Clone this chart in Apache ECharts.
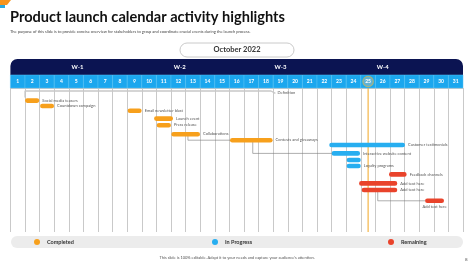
<!DOCTYPE html>
<html>
<head>
<meta charset="utf-8">
<script src="https://cdn.jsdelivr.net/npm/echarts@6/dist/echarts.min.js"></script>
<style>
  html, body {margin:0;padding:0;background:#fff}
  #main {width:474px;height:266px}
</style>
</head>
<body>
<div id="main"></div>
<script>
// ---- data ----
var days = ['1','2','3','4','5','6','7','8','9','10','11','12','13','14','15','16',
            '17','18','19','20','21','22','23','24','25','26','27','28','29','30','31'];
var weeks = ['W-1', 'W-2', 'W-3', 'W-4'];
var weekCenters = [4.6, 11.6, 18.5, 25.5];
var todayDay = 25;

// tasks: start / end in days from the 1st (0 = left edge of day 1), lane = row
var taskNames = ['Social media teasers', 'Countdown campaign', 'Email newsletter blast', 'Launch event',
                 'Press release', 'Collaborations', 'Contests and giveaways', 'Customer testimonials',
                 'Interactive website content', '', 'Loyalty programs', 'Feedback channels',
                 'Add text here', 'Add text here', 'Add text here'];
var taskStart  = [1.0, 2.03, 8.03, 9.84, 10.02, 11.02, 15.04, 21.84, 22.0, 23.03, 23.03, 25.93, 23.88, 24.06, 28.4];
var taskEnd    = [1.98, 2.99, 8.99, 11.14, 11.0, 12.99, 17.96, 27.03, 23.95, 24.0, 24.0, 27.14, 26.5, 26.5, 29.7];
var taskLane   = [2.1, 3.0, 3.8, 5.1, 6.2, 7.7, 8.7, 9.5, 10.9, 12.0, 13.0, 14.4, 15.9, 17.0, 18.8];
var taskStatus = [0, 0, 0, 0, 0, 0, 0, 1, 1, 1, 1, 2, 2, 2, 2];
var labelPos   = ['right','right','right','right','right','right','right','right','right','right','right','right','right','right','bottom'];

var statusNames = ['Completed', 'In Progress', 'Remaining'];
var statusColors = ['#f7a01c', '#27aef0', '#e9432b'];
var legendLeft = [34, 212, 388];

// elbow connectors: vertical at x from lane a to lane b, then across to end
var connX    = [12.16, 16.6, 25.16];
var connFrom = [7.7, 8.7, 17.0];
var connTo   = [8.7, 10.9, 18.8];
var connEnd  = [15.04, 22.0, 28.4];

var milestoneName = 'Definition';
var milestonePath = [[1.0, 1.6], [1.0, 0.5], [17.85, 0.5], [18.15, 0.9]];
var milestoneLabel = [18.3, 0.8];

var chart = echarts.init(document.getElementById('main'));
var F = 'Lato, "Open Sans", sans-serif';

function barSeries(st) {
  var data = [];
  for (var i = 0; i < taskNames.length; i++) {
    if (taskStatus[i] === st) data.push([taskStart[i], taskEnd[i], taskLane[i], i]);
  }
  return {
    type: 'custom', name: statusNames[st], z: 5,
    itemStyle: {color: statusColors[st]},
    data: data,
    renderItem: function (params, api) {
      var s = api.coord([api.value(0), api.value(2)]);
      var e = api.coord([api.value(1), api.value(2)]);
      var idx = api.value(3);
      var h = 4.6;
      var kids = [{type: 'rect', shape: {x: s[0], y: s[1] - h / 2, width: e[0] - s[0], height: h, r: h / 2},
                   style: {fill: statusColors[st]}}];
      if (taskNames[idx]) {
        var below = labelPos[idx] === 'bottom';
        kids.push({type: 'text', style: {
          text: taskNames[idx], x: below ? (s[0] + e[0]) / 2 : e[0] + 3, y: below ? s[1] + 6 : s[1],
          align: below ? 'center' : 'left', verticalAlign: 'middle',
          fontSize: 4, fontFamily: F, fill: '#555'}});
      }
      return {type: 'group', children: kids};
    }
  };
}

var series = [];

// navy week band
series.push({
  type: 'custom', clip: false, silent: true, z: 3, data: [[0, 31]],
  renderItem: function (params, api) {
    var a = api.coord([api.value(0), -4.83]);
    var b = api.coord([api.value(1), -2.17]);
    return {type: 'rect', shape: {x: a[0], y: a[1], width: b[0] - a[0], height: b[1] - a[1], r: [7, 7, 0, 0]},
            style: {fill: '#0b1452'}};
  }
});
// week labels
series.push({
  type: 'custom', clip: false, silent: true, z: 4,
  data: weekCenters.map(function (c, i) { return [c, i]; }),
  renderItem: function (params, api) {
    var p = api.coord([api.value(0), -3.5]);
    return {type: 'text', style: {text: weeks[api.value(1)], x: p[0], y: p[1], align: 'center', verticalAlign: 'middle',
            fontSize: 6, fontWeight: 'bold', fontFamily: F, fill: '#fff'}};
  }
});
// day cells
series.push({
  type: 'custom', clip: false, silent: true, z: 3,
  data: days.map(function (d, i) { return [i, i + 1]; }),
  renderItem: function (params, api) {
    var a = api.coord([api.value(0), -2.17]);
    var b = api.coord([api.value(1), 0]);
    var label = days[params.dataIndex];
    var kids = [{type: 'rect', shape: {x: a[0], y: a[1], width: b[0] - a[0], height: b[1] - a[1]},
                 style: {fill: '#1ba7ee', stroke: '#55c0f2', lineWidth: 0.5}}];
    if (+label === todayDay) {
      kids.push({type: 'circle', shape: {cx: (a[0] + b[0]) / 2, cy: (a[1] + b[1]) / 2, r: 5.2},
                 style: {fill: '#5fb2d6', stroke: '#a9b37c', lineWidth: 1.2}});
    }
    kids.push({type: 'text', style: {text: label, x: (a[0] + b[0]) / 2, y: (a[1] + b[1]) / 2 + 0.3, align: 'center',
               verticalAlign: 'middle', fontSize: 5, fontWeight: 'bold', fontFamily: F, fill: '#fff'}});
    return {type: 'group', children: kids};
  }
});
// today line
series.push({
  type: 'custom', clip: false, silent: true, z: 2, data: [[todayDay - 0.5]],
  renderItem: function (params, api) {
    var a = api.coord([api.value(0), 0]);
    var b = api.coord([api.value(0), 24]);
    return {type: 'line', shape: {x1: a[0], y1: a[1], x2: b[0], y2: b[1]}, style: {stroke: '#f2a623', lineWidth: 1}};
  }
});
// connectors
for (var c = 0; c < connX.length; c++) {
  series.push({
    type: 'line', symbol: 'none', silent: true, z: 2,
    lineStyle: {color: '#777', width: 0.6},
    data: [[connX[c], connFrom[c]], [connX[c], connTo[c]], [connEnd[c], connTo[c]]]
  });
}
// definition milestone
series.push({
  type: 'line', symbol: 'none', silent: true, z: 2,
  lineStyle: {color: '#c8c8c8', width: 1.3},
  data: milestonePath
});
series.push({
  type: 'custom', silent: true, z: 4, data: [milestoneLabel],
  renderItem: function (params, api) {
    var p = api.coord([api.value(0), api.value(1)]);
    return {type: 'text', style: {text: milestoneName, x: p[0], y: p[1], verticalAlign: 'middle',
            fontSize: 4, fontFamily: F, fill: '#555'}};
  }
});
series.push(barSeries(0), barSeries(1), barSeries(2));

var option = {
  animation: false,
  title: [
    {text: 'Product launch calendar activity highlights', left: 10, top: 10, padding: 0,
     textStyle: {fontSize: 14.6, fontWeight: 'bold', fontFamily: F, color: '#111'}},
    {text: 'The purpose of this slide is to provide concise overview for stakeholders to grasp and coordinate crucial events during the launch process.',
     left: 10, top: 30, padding: 0, textStyle: {fontSize: 4, fontWeight: 'normal', fontFamily: F, color: '#444'}},
    {text: 'October 2022', left: 'center', top: 46, padding: 0, textStyle: {fontSize: 7.5, fontWeight: 'bold', fontFamily: F, color: '#333'}},
    {text: 'This slide is 100% editable. Adapt it to your needs and capture your audience\u2019s attention.',
     left: 'center', top: 255.5, padding: 0, textStyle: {fontSize: 4, fontWeight: 'normal', fontFamily: F, color: '#555'}},
    {text: '8', left: 465, top: 257, padding: 0, textStyle: {fontSize: 4.5, fontWeight: 'normal', fontFamily: F, color: '#555'}}
  ],
  graphic: [
    {type: 'polygon', shape: {points: [[0, 0], [11, 0], [7, 5], [0, 5]]}, style: {fill: '#f7941d'}},
    {type: 'rect', shape: {x: 0, y: 5, width: 5, height: 3}, style: {fill: '#2aa9e0'}},
    {type: 'rect', shape: {x: 180, y: 43, width: 114, height: 14, r: 7}, style: {fill: '#fff', stroke: '#bdbdbd', lineWidth: 0.8}, z: -1},
    {type: 'rect', shape: {x: 11, y: 236, width: 452, height: 12, r: 6}, style: {fill: '#ececec'}, z: -1}
  ],
  legend: statusNames.map(function (n, i) {
    return {data: [n], left: legendLeft[i], top: 239, padding: 0, icon: 'circle', itemWidth: 6, itemHeight: 6, itemGap: 4,
            selectedMode: false, textStyle: {fontSize: 5.5, fontWeight: 'bold', fontFamily: F, color: '#333', padding: [0, 0, 0, 2]}};
  }),
  grid: {left: 10.4, right: 11, top: 88, bottom: 34},
  xAxis: {type: 'value', min: 0, max: 31, interval: 1,
          axisLabel: {show: false}, axisTick: {show: false},
          axisLine: {show: true, lineStyle: {color: '#c9c9c9', width: 1}},
          splitLine: {show: true, lineStyle: {color: '#c9c9c9', width: 1}}},
  yAxis: {type: 'value', min: 0, max: 24, inverse: true, show: false, splitLine: {show: false}},
  series: series
};
chart.setOption(option);
</script>
</body>
</html>
